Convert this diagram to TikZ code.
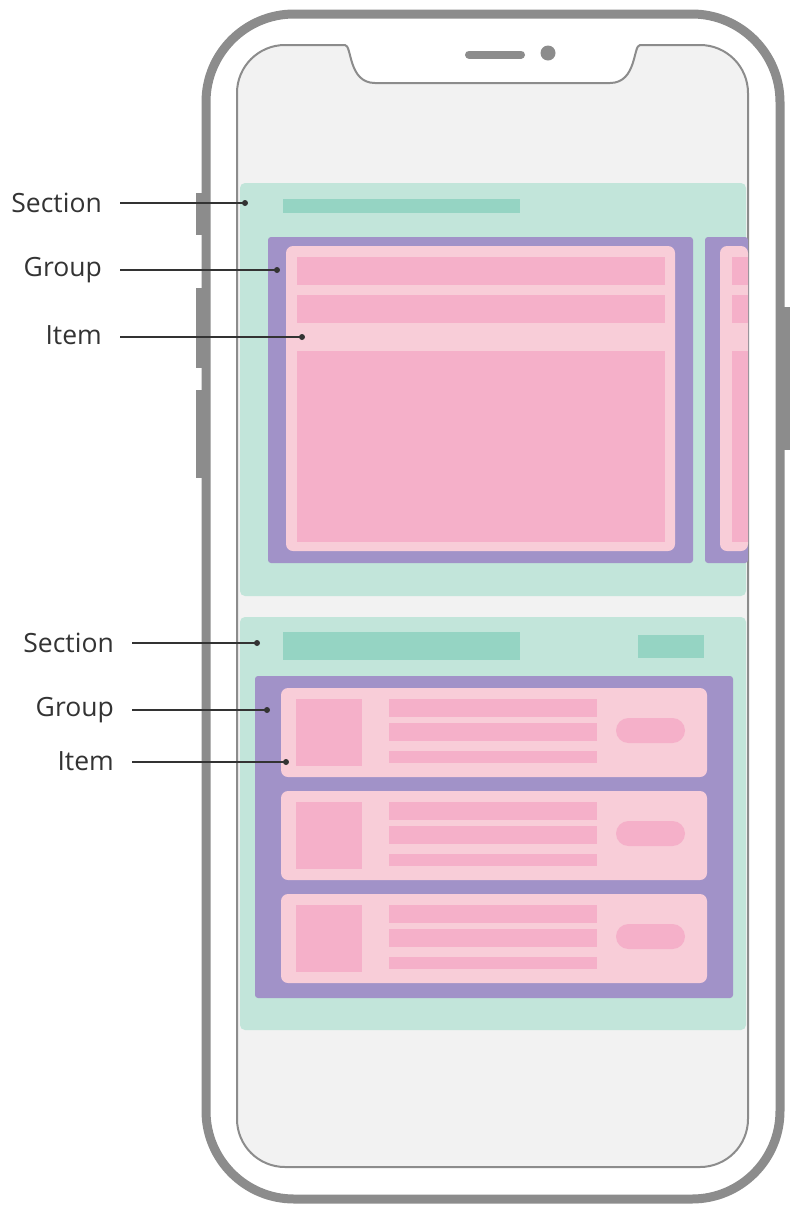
\documentclass[tikz,border=0pt]{standalone}
\usepackage{fontspec}
\setmainfont{Open Sans}
\definecolor{phone}{HTML}{8C8C8C}
\definecolor{scr}{HTML}{F2F2F2}
\definecolor{sec}{HTML}{C2E5DA}
\definecolor{secbar}{HTML}{95D4C3}
\definecolor{grp}{HTML}{A192C8}
\definecolor{itm}{HTML}{F8CDD8}
\definecolor{itmd}{HTML}{F5B0C9}
\definecolor{lbl}{HTML}{333333}
\tikzset{lab/.style={font=\fontsize{26.5}{30}\selectfont,text=lbl,inner sep=0pt},
 lead/.style={draw=lbl,line width=1.6pt},
 dotm/.style={circle,fill=lbl,inner sep=0pt,minimum size=6pt}}
\begin{document}
\begin{tikzpicture}[x=1pt,y=-1pt]
\useasboundingbox (0,0) rectangle (800,1211);
% buttons
\fill[phone] (196,193) rectangle (204,235);
\fill[phone] (196,288) rectangle (204,368);
\fill[phone] (196,390) rectangle (204,478);
\fill[phone] (782,307) rectangle (790,450);
% phone body
\draw[phone,line width=9pt,fill=white,rounded corners=88pt] (206,14) rectangle (780,1199);
% screen
\draw[phone,line width=2pt,fill=scr] (287,45) [rounded corners=48pt]-- (237,45) -- (237,1167) -- (748,1167) -- (748,45) [sharp corners]-- (640,45)
 .. controls (633,45) and (637,83) .. (610,83) -- (375,83) .. controls (348,83) and (352,45) .. (345,45) -- cycle;
\draw[phone,line width=8pt,line cap=round] (469,54.5) -- (521,54.5);
\fill[phone] (548,53) circle (7.5);
% section 1
\fill[sec,rounded corners=5pt] (240,183) rectangle (746,596);
\fill[secbar] (283,199) rectangle (520,213);
\fill[grp,rounded corners=3pt] (268,237) rectangle (693,563);
\fill[itm,rounded corners=7pt] (286,246) rectangle (675,551);
\fill[itmd] (297,257) rectangle (665,285);
\fill[itmd] (297,295) rectangle (665,323);
\fill[itmd] (297,351) rectangle (665,542);
\fill[grp,rounded corners=3pt] (705,237) rectangle (748,563);
\fill[itm,rounded corners=7pt] (720,246) rectangle (748,551);
\fill[itmd] (732,257) rectangle (748,285);
\fill[itmd] (732,295) rectangle (748,323);
\fill[itmd] (732,351) rectangle (748,542);
% section 2
\fill[sec,rounded corners=5pt] (240,617) rectangle (746,1030);
\fill[secbar] (283,632) rectangle (520,660);
\fill[secbar] (638,635) rectangle (704,658);
\fill[grp,rounded corners=3pt] (255,676) rectangle (733,998);
\foreach \y in {688,791,894}{
 \fill[itm,rounded corners=7pt] (281,\y) rectangle (707,\y+89);
 \fill[itmd] (296,\y+11) rectangle (362,\y+78);
 \fill[itmd] (389,\y+11) rectangle (597,\y+29);
 \fill[itmd] (389,\y+35) rectangle (597,\y+53);
 \fill[itmd] (389,\y+63) rectangle (597,\y+75);
 \fill[itmd,rounded corners=12.5pt] (616,\y+30) rectangle (685,\y+55);
}
% labels
\node[lab,anchor=east] (s1) at (102,203) {Section};
\node[lab,anchor=east] (g1) at (102,270) {Group};
\node[lab,anchor=east] (i1) at (102,335) {Item};
\node[dotm] (ds1) at (245,203) {};
\node[dotm] (dg1) at (277,270) {};
\node[dotm] (di1) at (302,337) {};
\draw[lead] (s1.east) ++(18,0) -- (ds1.center);
\draw[lead] (g1.east) ++(18,0) -- (dg1.center);
\draw[lead] (i1.east) ++(18,2) -- (di1.center);
\node[lab,anchor=east] (s2) at (114,643) {Section};
\node[lab,anchor=east] (g2) at (114,710) {Group};
\node[lab,anchor=east] (i2) at (114,761) {Item};
\node[dotm] (ds2) at (257,643) {};
\node[dotm] (dg2) at (267,710) {};
\node[dotm] (di2) at (286,762) {};
\draw[lead] (s2.east) ++(18,0) -- (ds2.center);
\draw[lead] (g2.east) ++(18,0) -- (dg2.center);
\draw[lead] (i2.east) ++(18,1) -- (di2.center);
\end{tikzpicture}
\end{document}
